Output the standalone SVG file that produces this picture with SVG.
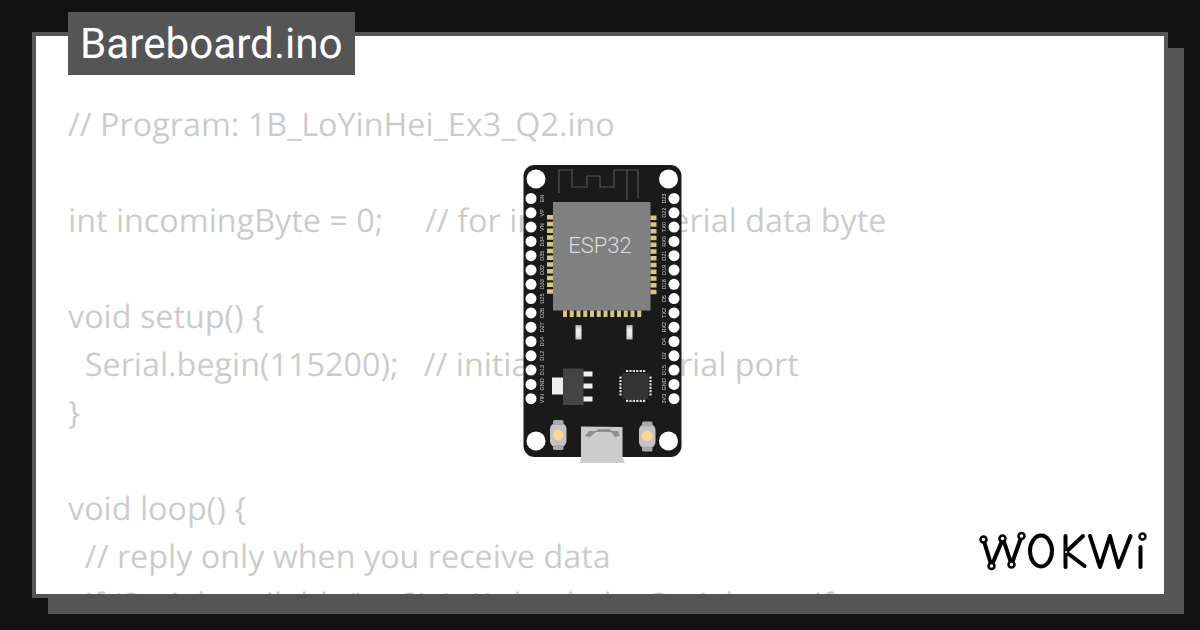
<svg xmlns="http://www.w3.org/2000/svg" width="1200" height="630" viewBox="0 0 1200 630">
<style>
.code{font-family:"Open Sans","Noto Sans",sans-serif;font-size:32.32px;fill:#000;white-space:pre;text-rendering:geometricPrecision}
.pin{font-family:"Liberation Sans",sans-serif;font-size:5.5px;fill:#ccc}
.pad{fill:#fff}
.gold{fill:#d9c77e}
.tab{fill:#e8e8e8}
.node{fill:#fff;stroke:#000;stroke-width:2.5}
</style>
<defs><clipPath id="cardclip"><rect x="36" y="36" width="1128" height="558"/></clipPath>
<linearGradient id="cap" x1="0" y1="0" x2="0" y2="1"><stop offset="0" stop-color="#aaa"/><stop offset="0.3" stop-color="#eee"/><stop offset="0.75" stop-color="#f3e8d4"/><stop offset="1" stop-color="#bbb"/></linearGradient></defs>
<rect width="1200" height="630" fill="#111"/>
<rect x="48" y="48" width="1136" height="566" fill="#555"/>
<rect x="32" y="32" width="1136" height="566" fill="#555"/>
<rect x="36" y="36" width="1128" height="558" fill="#fff"/>
<g clip-path="url(#cardclip)" opacity="0.2">
<text class="code" x="68" y="136">// Program: 1B_LoYinHei_Ex3_Q2.ino</text>
<text class="code" x="68" y="232" xml:space="preserve">int incomingByte = 0;     // for incoming serial data byte</text>
<text class="code" x="68" y="328">void setup() {</text>
<text class="code" x="68" y="376" xml:space="preserve">  Serial.begin(115200);   // initialize the serial port</text>
<text class="code" x="68" y="424">}</text>
<text class="code" x="68" y="520">void loop() {</text>
<text class="code" x="68" y="568" xml:space="preserve">  // reply only when you receive data</text>
<text class="code" x="68" y="616" xml:space="preserve">  if (Serial.available() &gt; 0) {  // check the Serial port if</text>
</g>
<g id="title">
<rect x="68" y="12" width="287" height="63" fill="#555"/>
<text x="80" y="58" font-family="Roboto,sans-serif" font-size="42.2" fill="#fff" opacity="0.999" style="text-rendering:geometricPrecision">Bareboard.ino</text>
</g>
<g id="esp32">
<rect x="523.500" y="165" width="158" height="292" rx="11" fill="#1a1a1a"/>
<path d="M559 193V170H572V187H587V176H600V187H614V170H638V198M627 170V200" fill="none" stroke="#555" stroke-width="1.200"/>
<rect x="553" y="202" width="97.500" height="108.500" fill="#808080"/>
<text x="600" y="253" text-anchor="middle" font-family="Roboto,sans-serif" font-size="22" font-weight="300" fill="#ddd">ESP32</text>
<g class="gold">
<rect x="547" y="215" width="6" height="4.500"/><rect x="547" y="221.750" width="6" height="4.500"/><rect x="547" y="228.500" width="6" height="4.500"/><rect x="547" y="235.250" width="6" height="4.500"/><rect x="547" y="242" width="6" height="4.500"/><rect x="547" y="248.750" width="6" height="4.500"/><rect x="547" y="255.500" width="6" height="4.500"/><rect x="547" y="262.250" width="6" height="4.500"/><rect x="547" y="269" width="6" height="4.500"/><rect x="547" y="275.750" width="6" height="4.500"/><rect x="547" y="282.500" width="6" height="4.500"/><rect x="547" y="289.250" width="6" height="4.500"/>
<rect x="650.500" y="215.500" width="6" height="4.500"/><rect x="650.500" y="222.250" width="6" height="4.500"/><rect x="650.500" y="229" width="6" height="4.500"/><rect x="650.500" y="235.750" width="6" height="4.500"/><rect x="650.500" y="242.500" width="6" height="4.500"/><rect x="650.500" y="249.250" width="6" height="4.500"/><rect x="650.500" y="256" width="6" height="4.500"/><rect x="650.500" y="262.750" width="6" height="4.500"/><rect x="650.500" y="269.500" width="6" height="4.500"/><rect x="650.500" y="276.250" width="6" height="4.500"/><rect x="650.500" y="283" width="6" height="4.500"/><rect x="650.500" y="289.750" width="6" height="4.500"/>
<rect x="563" y="310.500" width="4" height="6.500"/><rect x="569.750" y="310.500" width="4" height="6.500"/><rect x="576.500" y="310.500" width="4" height="6.500"/><rect x="583.250" y="310.500" width="4" height="6.500"/><rect x="590" y="310.500" width="4" height="6.500"/><rect x="596.750" y="310.500" width="4" height="6.500"/><rect x="603.500" y="310.500" width="4" height="6.500"/><rect x="610.250" y="310.500" width="4" height="6.500"/><rect x="617" y="310.500" width="4" height="6.500"/><rect x="623.750" y="310.500" width="4" height="6.500"/><rect x="630.500" y="310.500" width="4" height="6.500"/><rect x="637.250" y="310.500" width="4" height="6.500"/>
</g>
<g class="pad">
<circle cx="536" cy="179" r="9.500"/><circle cx="668.500" cy="179" r="9.500"/><circle cx="536" cy="441" r="9.500"/><circle cx="668.500" cy="441" r="9.500"/>
<circle cx="531" cy="198.500" r="5.500"/><circle cx="531" cy="212.800" r="5.500"/><circle cx="531" cy="227.100" r="5.500"/><circle cx="531" cy="241.400" r="5.500"/><circle cx="531" cy="255.700" r="5.500"/><circle cx="531" cy="270" r="5.500"/><circle cx="531" cy="284.300" r="5.500"/><circle cx="531" cy="298.600" r="5.500"/><circle cx="531" cy="312.900" r="5.500"/><circle cx="531" cy="327.200" r="5.500"/><circle cx="531" cy="341.500" r="5.500"/><circle cx="531" cy="355.800" r="5.500"/><circle cx="531" cy="370.100" r="5.500"/><circle cx="531" cy="384.400" r="5.500"/><circle cx="531" cy="398.700" r="5.500"/>
<circle cx="674" cy="198.500" r="5.500"/><circle cx="674" cy="212.800" r="5.500"/><circle cx="674" cy="227.100" r="5.500"/><circle cx="674" cy="241.400" r="5.500"/><circle cx="674" cy="255.700" r="5.500"/><circle cx="674" cy="270" r="5.500"/><circle cx="674" cy="284.300" r="5.500"/><circle cx="674" cy="298.600" r="5.500"/><circle cx="674" cy="312.900" r="5.500"/><circle cx="674" cy="327.200" r="5.500"/><circle cx="674" cy="341.500" r="5.500"/><circle cx="674" cy="355.800" r="5.500"/><circle cx="674" cy="370.100" r="5.500"/><circle cx="674" cy="384.400" r="5.500"/><circle cx="674" cy="398.700" r="5.500"/>
</g>
<g class="pin" text-anchor="middle" opacity="0.999">
<text transform="translate(543.500,198.500) rotate(-90)">EN</text><text transform="translate(543.500,212.800) rotate(-90)">VP</text><text transform="translate(543.500,227.100) rotate(-90)">VN</text><text transform="translate(543.500,241.400) rotate(-90)">D34</text><text transform="translate(543.500,255.700) rotate(-90)">D35</text><text transform="translate(543.500,270) rotate(-90)">D32</text><text transform="translate(543.500,284.300) rotate(-90)">D33</text><text transform="translate(543.500,298.600) rotate(-90)">D25</text><text transform="translate(543.500,312.900) rotate(-90)">D26</text><text transform="translate(543.500,327.200) rotate(-90)">D27</text><text transform="translate(543.500,341.500) rotate(-90)">D14</text><text transform="translate(543.500,355.800) rotate(-90)">D12</text><text transform="translate(543.500,370.100) rotate(-90)">D13</text><text transform="translate(543.500,384.400) rotate(-90)">GND</text><text transform="translate(543.500,398.700) rotate(-90)">VIN</text>
<text transform="translate(666,198.500) rotate(-90)">D23</text><text transform="translate(666,212.800) rotate(-90)">D22</text><text transform="translate(666,227.100) rotate(-90)">TX0</text><text transform="translate(666,241.400) rotate(-90)">RX0</text><text transform="translate(666,255.700) rotate(-90)">D21</text><text transform="translate(666,270) rotate(-90)">D19</text><text transform="translate(666,284.300) rotate(-90)">D18</text><text transform="translate(666,298.600) rotate(-90)">D5</text><text transform="translate(666,312.900) rotate(-90)">TX2</text><text transform="translate(666,327.200) rotate(-90)">RX2</text><text transform="translate(666,341.500) rotate(-90)">D4</text><text transform="translate(666,355.800) rotate(-90)">D2</text><text transform="translate(666,370.100) rotate(-90)">D15</text><text transform="translate(666,384.400) rotate(-90)">GND</text><text transform="translate(666,398.700) rotate(-90)">3V3</text>
</g>
<rect x="575.500" y="325" width="6" height="14.500" fill="url(#cap)"/><rect x="626.500" y="325" width="6" height="14.500" fill="url(#cap)"/>
<rect x="552" y="377.500" width="11" height="17" fill="#eee"/>
<rect x="563" y="368.500" width="20.500" height="36.500" fill="#444"/>
<rect x="583.500" y="371.500" width="9" height="5" fill="#eee"/><rect x="583.500" y="383.500" width="9" height="5" fill="#eee"/><rect x="583.500" y="396.500" width="9" height="5" fill="#eee"/>
<rect x="622.500" y="373" width="26" height="26" fill="#333"/>
<path d="M626 371H646M626 400.800H646M620.500 376.500V395.500M650.500 376.500V395.500" stroke="#ddd" stroke-width="2.200" stroke-dasharray="2.200 1.200" fill="none"/>
<g id="led-left"><rect x="550" y="423" width="16.500" height="24" rx="6" fill="#c4c4c4"/><rect x="553" y="420" width="10.500" height="5" rx="1.500" fill="#aaa"/><rect x="553" y="445" width="10.500" height="5" rx="1.500" fill="#aaa"/><circle cx="558.300" cy="435" r="5.300" fill="#ffd98c"/></g>
<g id="led-right"><rect x="639" y="424" width="16.500" height="24" rx="6" fill="#c4c4c4"/><rect x="642" y="421.500" width="10.500" height="5" rx="1.500" fill="#aaa"/><rect x="642" y="446.500" width="10.500" height="5" rx="1.500" fill="#aaa"/><circle cx="647" cy="435.700" r="5.300" fill="#ffd98c"/></g>
<path d="M581 426.500L622.500 427V458L625 463H580L581 458Z" fill="#ccc"/>
<path d="M585 436L589 431H596L598 429H610L612 431H618L620 436L615 437L611 432H596L590 437Z" fill="#8f8f8f"/>
</g>
<g id="wokwi-logo" fill="none" stroke="#000" stroke-width="4" stroke-linecap="round" stroke-linejoin="round">
<path d="M983.500 539.500L991.500 566L1003 538.500L1011.500 564.500L1021.500 536.500"/>
<circle class="node" cx="983.500" cy="539.500" r="3"/><circle class="node" cx="1002.500" cy="538.500" r="3"/><circle class="node" cx="1021.500" cy="536" r="3"/><circle class="node" cx="991.500" cy="566" r="3"/><circle class="node" cx="1011.500" cy="564.500" r="3"/>
<ellipse cx="1041" cy="551" rx="11" ry="15.500"/>
<path d="M1065.500 536V567M1083 536L1066 552L1084.500 566"/>
<circle cx="1066" cy="552" r="1" fill="#fff" stroke="none"/>
<path d="M1090 536L1100 567L1110 536L1118.500 567L1130.500 536"/>
<path d="M1140.500 547V567"/>
<circle class="node" cx="1142.500" cy="536.500" r="3"/>
</g>
</svg>
